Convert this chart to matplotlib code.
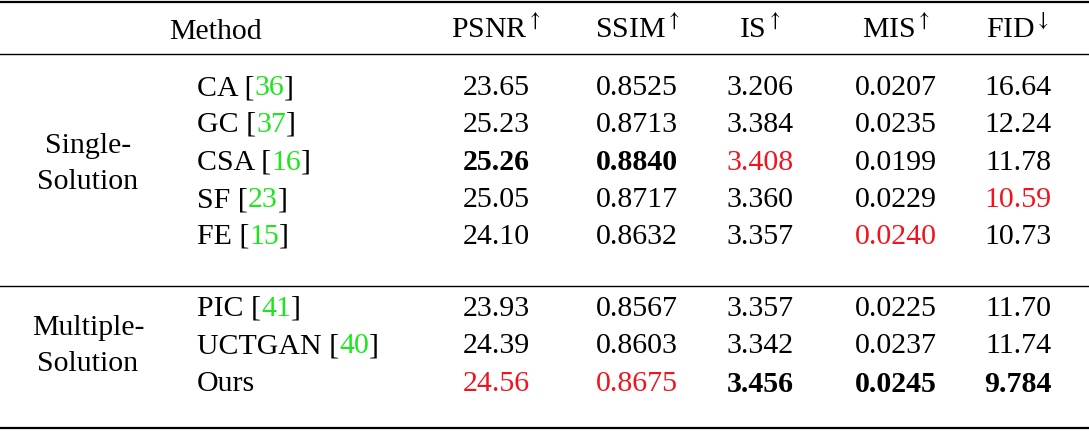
import matplotlib
matplotlib.use("Agg")
import matplotlib.pyplot as plt

plt.rcParams['font.family'] = ['Liberation Serif', 'DejaVu Serif']
plt.rcParams['mathtext.fontset'] = 'stix'

headers = ["PSNR$^{\\uparrow}$", "SSIM$^{\\uparrow}$", "IS$^{\\uparrow}$", "MIS$^{\\uparrow}$", "FID$^{\\downarrow}$"]
methods = ["CA", "GC", "CSA", "SF", "FE", "PIC", "UCTGAN", "Ours"]
cites = ["36", "37", "16", "23", "15", "41", "40", None]
psnr = ["23.65", "25.23", "25.26", "25.05", "24.10", "23.93", "24.39", "24.56"]
ssim = ["0.8525", "0.8713", "0.8840", "0.8717", "0.8632", "0.8567", "0.8603", "0.8675"]
is_ = ["3.206", "3.384", "3.408", "3.360", "3.357", "3.357", "3.342", "3.456"]
mis = ["0.0207", "0.0235", "0.0199", "0.0229", "0.0240", "0.0225", "0.0237", "0.0245"]
fid = ["16.64", "12.24", "11.78", "10.59", "10.73", "11.70", "11.74", "9.784"]
# style codes: b=bold, r=red, n=normal
styles = ["nnnnn", "nnnnn", "bbrnn", "nnnnr", "nnnrn", "nnnnn", "nnnnn", "rrbbb"]
groups = [("Single-\nSolution", 164), ("Multiple-\nSolution", 346)]

W, H = 1089, 432
fig = plt.figure(figsize=(W/100, H/100), dpi=100)
ax = fig.add_axes([0, 0, 1, 1])
ax.set_xlim(0, W); ax.set_ylim(H, 0); ax.axis('off')

fs = 21.5
RED = '#f0141e'
GREEN = '#1ee61e'
col_x = [496, 637, 760, 896, 1018]
row_y = [88, 125, 163, 200, 237, 309, 346, 384]

ax.plot([0, W], [2, 2], color='k', lw=1.6)
ax.plot([0, W], [54, 54], color='k', lw=1.0)
ax.plot([0, W], [286, 286], color='k', lw=1.0)
ax.plot([0, W], [428, 428], color='k', lw=1.6)

ax.text(215, 32, "Method", fontsize=fs, ha='center', va='center')
for x, h in zip(col_x, headers):
    ax.text(x, 30, h, fontsize=fs, ha='center', va='center')

for g, y in groups:
    ax.text(88, y, g, fontsize=fs, ha='center', va='center', linespacing=1.5)

fig.canvas.draw()
r = fig.canvas.get_renderer()
inv = ax.transData.inverted()
for i, (m, c) in enumerate(zip(methods, cites)):
    y = row_y[i]
    x = 197
    parts = [(m, 'k')] if c is None else [(m + " [", 'k'), (c, GREEN), ("]", 'k')]
    for txt, colr in parts:
        t = ax.text(x, y, txt, fontsize=fs, ha='left', va='center', color=colr)
        bb = t.get_window_extent(renderer=r)
        x = inv.transform((bb.x1, bb.y0))[0]
    vals = [psnr[i], ssim[i], is_[i], mis[i], fid[i]]
    for j, v in enumerate(vals):
        s = styles[i][j]
        ax.text(col_x[j], y, v, fontsize=fs, ha='center', va='center',
                color=RED if s == 'r' else 'k',
                fontweight='bold' if s == 'b' else 'normal')

fig.savefig("out.png", dpi=100)
